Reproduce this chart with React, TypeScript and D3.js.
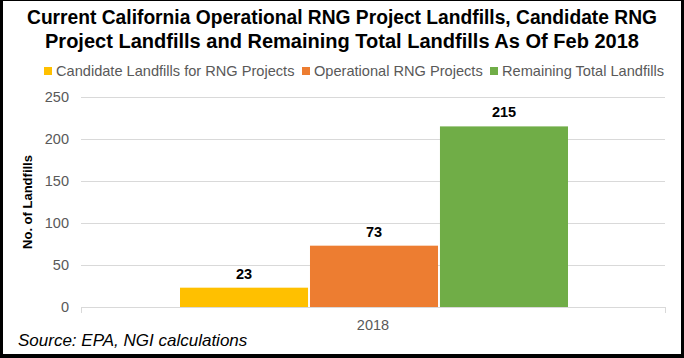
import { useEffect, useRef } from 'react';
import * as d3 from 'd3';

const categories = ['2018'];
const seriesNames = ['Candidate Landfills for RNG Projects', 'Operational RNG Projects', 'Remaining Total Landfills'];
const seriesValues = [23, 73, 215];
const seriesColors = ['#ffc000', '#ed7d31', '#70ad47'];
const yTicks = [0, 50, 100, 150, 200, 250];
const titleLines = [
  'Current California Operational RNG Project Landfills, Candidate RNG',
  'Project Landfills and Remaining Total Landfills As Of Feb 2018',
];

const W = 684;
const H = 358;
const FONT = '"Liberation Sans", Arial, sans-serif';

export default function App() {
  const svgRef = useRef<SVGSVGElement>(null);

  useEffect(() => {
    if (!svgRef.current) return;
    const svg = d3.select(svgRef.current);
    svg.selectAll('*').remove();

    // frame
    svg.append('rect').attr('width', W).attr('height', H).attr('fill', '#000');
    svg.append('rect').attr('x', 3).attr('y', 1).attr('width', 678).attr('height', 353).attr('fill', '#fff');

    const plot = { left: 81, right: 665, top: 97, bottom: 307 };

    const y = d3.scaleLinear().domain([0, 250]).range([plot.bottom, plot.top]);
    const x0 = d3.scaleBand().domain(categories).range([plot.left, plot.right]);
    const x1 = d3
      .scaleBand()
      .domain(seriesNames)
      .range([99, x0.bandwidth() - 97])
      .paddingInner(0.015);

    // title
    svg
      .append('g')
      .selectAll('text')
      .data(titleLines)
      .enter()
      .append('text')
      .attr('x', W / 2)
      .attr('y', (d, i) => 24 + i * 24)
      .attr('text-anchor', 'middle')
      .attr('font-family', FONT)
      .attr('font-weight', 'bold')
      .attr('font-size', 20)
      .attr('fill', '#000')
      .attr('textLength', (d, i) => (i === 0 ? 630 : 594))
      .attr('lengthAdjust', 'spacingAndGlyphs')
      .text(d => d);

    // legend
    const legendX = [44, 302, 490];
    const legend = svg.append('g');
    seriesNames.forEach((name, i) => {
      legend
        .append('rect')
        .attr('x', legendX[i])
        .attr('y', 67)
        .attr('width', 8)
        .attr('height', 8)
        .attr('fill', seriesColors[i]);
      legend
        .append('text')
        .attr('x', legendX[i] + 12)
        .attr('y', 76)
        .attr('font-family', FONT)
        .attr('font-size', 14.6)
        .attr('fill', '#595959')
        .text(name);
    });

    // gridlines
    svg
      .append('g')
      .selectAll('line')
      .data(yTicks.filter(t => t > 0))
      .enter()
      .append('line')
      .attr('x1', plot.left)
      .attr('x2', plot.right)
      .attr('y1', d => Math.round(y(d)) + 0.5)
      .attr('y2', d => Math.round(y(d)) + 0.5)
      .attr('stroke', '#d9d9d9')
      .attr('stroke-width', 1);

    // y tick labels
    svg
      .append('g')
      .selectAll('text')
      .data(yTicks)
      .enter()
      .append('text')
      .attr('x', 69)
      .attr('y', d => y(d))
      .attr('dy', '0.35em')
      .attr('text-anchor', 'end')
      .attr('font-family', FONT)
      .attr('font-size', 14.5)
      .attr('fill', '#595959')
      .text(d => d);

    // y title
    svg
      .append('text')
      .attr('transform', `translate(32,${(plot.top + plot.bottom) / 2}) rotate(-90)`)
      .attr('text-anchor', 'middle')
      .attr('font-family', FONT)
      .attr('font-weight', 'bold')
      .attr('font-size', 13)
      .attr('fill', '#000')
      .text('No. of Landfills');

    // bars
    const groups = svg
      .append('g')
      .selectAll('g')
      .data(categories)
      .enter()
      .append('g')
      .attr('transform', d => `translate(${x0(d)},0)`);

    groups
      .selectAll('rect')
      .data(seriesNames.map((name, i) => ({ name, value: seriesValues[i], color: seriesColors[i] })))
      .enter()
      .append('rect')
      .attr('x', d => x1(d.name) as number)
      .attr('width', x1.bandwidth())
      .attr('y', d => y(d.value))
      .attr('height', d => plot.bottom - y(d.value))
      .attr('fill', d => d.color);

    groups
      .selectAll('text')
      .data(seriesNames.map((name, i) => ({ name, value: seriesValues[i] })))
      .enter()
      .append('text')
      .attr('x', d => (x1(d.name) as number) + x1.bandwidth() / 2)
      .attr('y', d => y(d.value) - 9)
      .attr('text-anchor', 'middle')
      .attr('font-family', FONT)
      .attr('font-weight', 'bold')
      .attr('font-size', 14.5)
      .attr('fill', '#000')
      .text(d => d.value);

    // x axis
    const axis = svg.append('g').attr('stroke', '#d9d9d9').attr('fill', 'none');
    axis
      .append('line')
      .attr('x1', plot.left)
      .attr('x2', plot.right)
      .attr('y1', plot.bottom + 0.5)
      .attr('y2', plot.bottom + 0.5);
    [plot.left, plot.right].forEach(px => {
      axis
        .append('line')
        .attr('x1', px + 0.5)
        .attr('x2', px + 0.5)
        .attr('y1', plot.bottom)
        .attr('y2', plot.bottom + 6);
    });

    svg
      .append('g')
      .selectAll('text')
      .data(categories)
      .enter()
      .append('text')
      .attr('x', d => (x0(d) as number) + x0.bandwidth() / 2)
      .attr('y', 330)
      .attr('text-anchor', 'middle')
      .attr('font-family', FONT)
      .attr('font-size', 14.5)
      .attr('fill', '#595959')
      .text(d => d);

    // source
    svg
      .append('text')
      .attr('x', 18)
      .attr('y', 346)
      .attr('font-family', FONT)
      .attr('font-style', 'italic')
      .attr('font-size', 17)
      .attr('fill', '#000')
      .text('Source: EPA, NGI calculations');
  }, []);

  return (
    <svg
      ref={svgRef}
      width={W}
      height={H}
      style={{ position: 'absolute', left: 0, top: 0, display: 'block' }}
    />
  );
}
